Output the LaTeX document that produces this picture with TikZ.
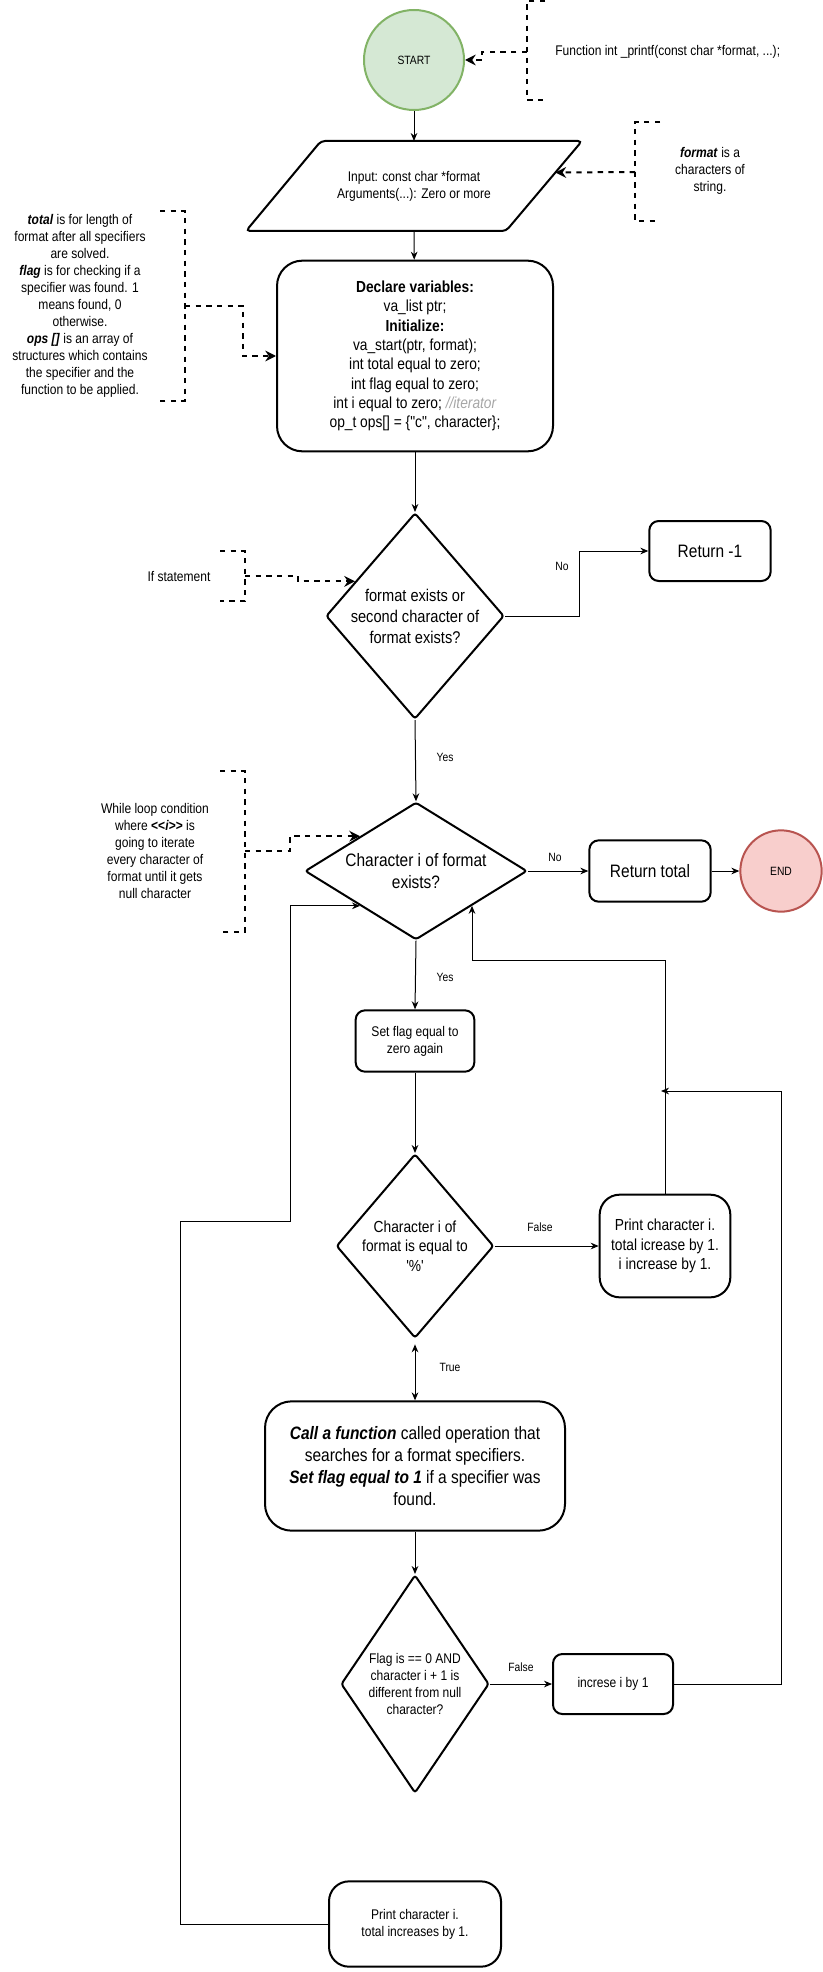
\documentclass[tikz,border=0pt]{standalone}
\usepackage{fontspec}
\setmainfont{Liberation Sans}[FakeStretch=0.86,Ligatures=TeXOff]
\usetikzlibrary{arrows.meta, shapes.geometric, positioning, calc}

\definecolor{startfill}{HTML}{D5E8D4}
\definecolor{startdraw}{HTML}{82B366}
\definecolor{endfill}{HTML}{F8CECC}
\definecolor{enddraw}{HTML}{B85450}

\tikzset{
  tA/.style={font=\fontsize{9}{11}\selectfont},
  tB/.style={font=\fontsize{10.5}{12.75}\selectfont},
  tC/.style={font=\fontsize{12}{14.5}\selectfont},
  tD/.style={font=\fontsize{12.75}{15.75}\selectfont},
  tE/.style={font=\fontsize{13.5}{16.5}\selectfont},
  box/.style={draw, line width=1.5pt, rounded corners=7pt, align=center, inner sep=0pt},
  decision/.style={draw, diamond, line width=1.5pt, rounded corners=2pt, inner sep=0pt},
  terminal/.style={draw, circle, line width=1.5pt, inner sep=0pt, tA},
  flow/.style={-{Stealth[length=6pt,width=5pt]}, line width=0.75pt},
  note/.style={dash pattern=on 4pt off 4pt, line width=1.5pt},
  notearrow/.style={note, -{Stealth[length=8pt,width=8pt]}},
  lbl/.style={tA},
  txt/.style={align=center, inner sep=0pt},
}

\begin{document}
\begin{tikzpicture}[x=0.75pt, y=-0.75pt]
  \useasboundingbox (0,0) rectangle (822,1972);

  % main flow
  \node[terminal, fill=startfill, draw=startdraw, minimum size=75pt] (start) at (414,60) {START};

  \node[txt, tB] (input) at (414,186) {Input: const char *format\\Arguments(...): Zero or more};
  \coordinate (pTL) at (321,141);
  \coordinate (pTR) at (582,141);
  \coordinate (pBR) at (506,231);
  \coordinate (pBL) at (246,231);
  \draw[line width=1.5pt, rounded corners=3pt] (pTL) -- (pTR) -- (pBR) -- (pBL) -- cycle;

  \node[box, tC, rounded corners=19pt, minimum width=207pt, minimum height=143pt] (decl) at (415,356)
    {\textbf{Declare variables:}\\va\_list ptr;\\\textbf{Initialize:}\\va\_start(ptr, format);\\int total equal to zero;\\int flag equal to zero;\\int i equal to zero; \textcolor{gray!70}{\textit{//iterator}}\\op\_t ops[] = \{"c", character\};};

  \node[decision, minimum width=133.5pt, minimum height=154.5pt,
        label={[txt, tD]center:format exists or\\second character of\\format exists?}] (d1) at (415,616) {};
  \node[box, tE, minimum width=91pt, minimum height=45pt] (ret1) at (710,551) {Return -1};

  \node[decision, minimum width=166.5pt, minimum height=103pt,
        label={[txt, tE]center:Character i of format\\exists?}] (d2) at (416,871) {};
  \node[box, tE, minimum width=91pt, minimum height=46pt] (rett) at (650,871) {Return total};
  \node[terminal, fill=endfill, draw=enddraw, minimum size=61pt] (endn) at (781,871) {END};

  \node[box, tB, minimum width=89pt, minimum height=46pt] (setf) at (415,1041) {Set flag equal to\\zero again};

  \node[decision, minimum width=118pt, minimum height=138pt,
        label={[txt, tC]center:Character i of\\format is equal to\\'\%'}] (d3) at (415,1246) {};
  \node[box, tC, rounded corners=15pt, minimum width=98pt, minimum height=77pt] (pr1) at (665,1246)
    {Print character i.\\total icrease by 1.\\i increase by 1.};

  \node[box, tE, rounded corners=20pt, minimum width=225pt, minimum height=97pt] (call) at (415,1466)
    {\textbf{\textit{Call a function}} called operation that\\searches for a format specifiers.\\\textbf{\textit{Set flag equal to 1}} if a specifier was\\found.};

  \node[decision, minimum width=111pt, minimum height=163.5pt,
        label={[txt, tB]center:Flag is == 0 AND\\character i + 1 is\\different from null\\character?}] (d4) at (415,1684) {};
  \node[box, tB, minimum width=90pt, minimum height=45pt] (inc) at (613,1684) {increse i by 1};

  \node[box, tB, rounded corners=15pt, minimum width=129pt, minimum height=64pt] (pr2) at (415,1924)
    {Print character i.\\total increases by 1.};

  \coordinate (join) at (661,1091);

  % connectors
  \draw[flow] (start) -- (start |- pTL);
  \draw[flow] (start |- pBL) -- (decl);
  \draw[flow] (decl) -- (d1);
  \draw[flow] (d1.east) -- ++(74,0) |- (ret1.west);
  \draw[flow] (d1.south) -- (d2.north);
  \draw[flow] (d2.east) -- (rett.west);
  \draw[flow] (rett.east) -- (endn.west);
  \draw[flow] (d2.south) -- (setf.north);
  \draw[flow] (setf.south) -- (d3.north);
  \draw[flow] (d3.east) -- (pr1.west);
  \draw[flow] (pr1.north) -- ++(0,-233) -| (d2.south east);
  \draw[{Stealth[length=6pt,width=5pt]}-{Stealth[length=6pt,width=5pt]}, line width=0.75pt]
    ([yshift=-4pt]d3.south) -- (call.north);
  \draw[flow] (call.south) -- (d4.north);
  \draw[flow] (d4.east) -- (inc.west);
  \draw[flow] (inc.east) -- ++(107,0) |- (join);
  \draw[flow] (pr2.west) -| (180,1221) -| ([xshift=-52.5pt]d2.south west) -- (d2.south west);

  \node[lbl] at (562,566) {No};
  \node[lbl] at (445,757) {Yes};
  \node[lbl] at (555,857) {No};
  \node[lbl] at (445,977) {Yes};
  \node[lbl] at (540,1227) {False};
  \node[lbl] at (450,1367) {True};
  \node[lbl] at (521,1667) {False};

  % annotations
  \node[tB, anchor=west, inner sep=0pt] (fnnote) at (555,52) {Function int \_printf(const char *format, ...);};
  \draw[note] (545,1) -- (527,1) -- (527,100) -- (545,100);
  \coordinate (fnM) at (527,52);
  \draw[notearrow] (fnM) -- ++(-45,0) |- (start.east);

  \node[txt, tB] (fmtnote) at (710,171) {\textbf{\textit{format}} is a\\characters of\\string.};
  \draw[note] (660,122) -- (635,122) -- (635,221) -- (660,221);
  \coordinate (fmM) at (635,172);
  \draw[notearrow] (fmM) -- ($(pTR)!0.35!(pBR)$);

  \node[txt, tB] (varnote) at (80,306) {\textbf{\textit{total}} is for length of\\format after all specifiers\\are solved.\\\textbf{\textit{flag}} is for checking if a\\specifier was found. 1\\means found, 0\\otherwise.\\\textbf{\textit{ops []}} is an array of\\structures which contains\\the specifier and the\\function to be applied.};
  \draw[note] (160,211) -- (185,211) -- (185,401) -- (160,401);
  \coordinate (varM) at (185,306);
  \draw[notearrow] (varM) -- ++(58,0) |- (decl.west);

  \node[tB] (ifnote) at (179,576) {If statement};
  \draw[note] (220,551) -- (245,551) -- (245,601) -- (220,601);
  \coordinate (ifM) at (245,576);
  \draw[notearrow] (ifM) -- ++(53,0) |- (d1.150);

  \node[txt, tB] (whnote) at (155,851) {While loop condition\\where \textbf{<<\textit{i}>>} is\\going to iterate\\every character of\\format until it gets\\null character};
  \draw[note] (220,771) -- (245,771) -- (245,932) -- (220,932);
  \coordinate (whM) at (245,851);
  \draw[notearrow] (whM) -- ++(45,0) |- (d2.north west);
\end{tikzpicture}
\end{document}
